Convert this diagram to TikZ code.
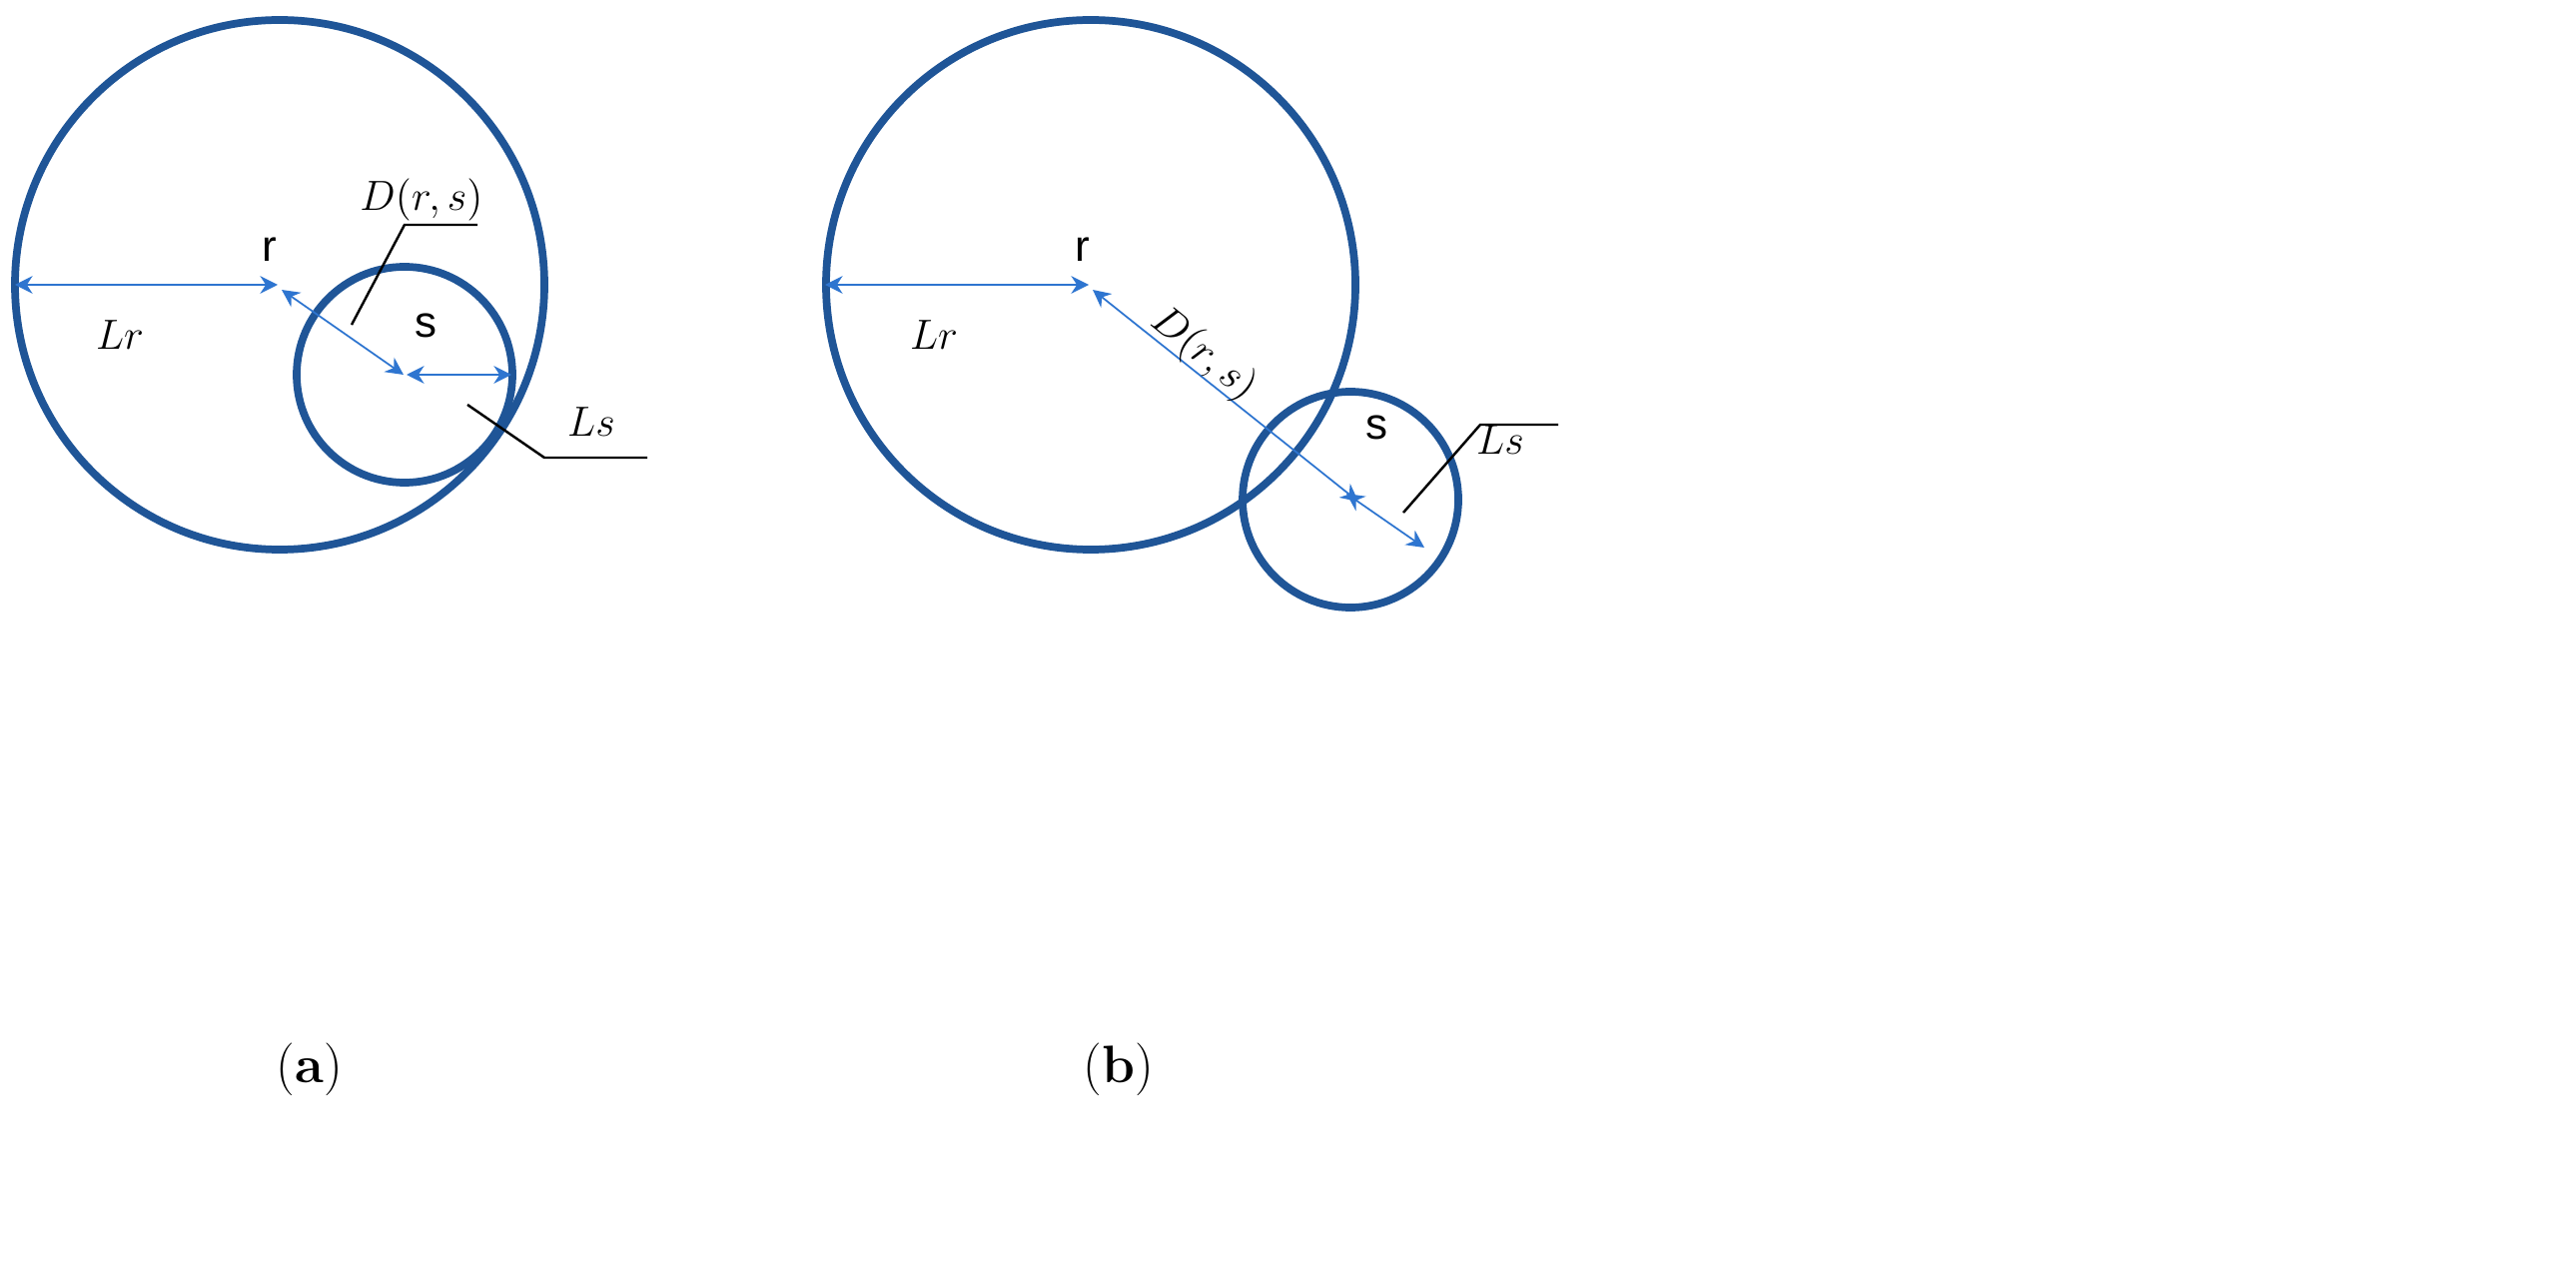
\documentclass[tikz,border=0pt]{standalone}
\usepackage{fontspec}
\newfontfamily\sansf{Liberation Sans}
\usetikzlibrary{arrows.meta}
\begin{document}
\begin{tikzpicture}[x=0.01cm,y=-0.01cm,
  circ/.style={draw={rgb,255:red,31;green,85;blue,151}, line width=2.2pt},
  dim/.style={draw={rgb,255:red,46;green,117;blue,208}, line width=0.5pt, {Stealth[length=5pt,width=5pt]}-{Stealth[length=5pt,width=5pt]}},
  lead/.style={draw=black, line width=0.7pt},
  lab/.style={font=\fontsize{12.5}{15}\selectfont},
  captxt/.style={font=\fontsize{15}{18}\selectfont}]
\useasboundingbox (0,0) rectangle (2579,1270);
% (a)
\coordinate (ra) at (280,285);
\coordinate (sa) at (405,375);
\draw[circ] (ra) circle[radius=265];
\draw[circ] (sa) circle[radius=108];
\coordinate (lra) at (15,285);
\coordinate (ra2) at (278,285);
\coordinate (ra3) at (282,290);
\coordinate (sa1) at (404,375);
\coordinate (sa2) at (407,375);
\coordinate (lsa) at (512,375);
\draw[dim] (lra) -- (ra2);
\draw[dim] (ra3) -- (sa1);
\draw[dim] (sa2) -- (lsa);
\node[lab] (rla) at (270,250) {\sansf r};
\node[lab] (sla) at (426,326) {\sansf s};
\node[lab] (lrla) at (120,335) {$Lr$};
\node[lab] (dla) at (422,200) {$D(r,s)$};
\node[lab] (lsla) at (592,422) {$Ls$};
\coordinate (d1) at (352,325); \coordinate (d2) at (405,225); \coordinate (d3) at (478,225);
\draw[lead] (d1) -- (d2) -- (d3);
\coordinate (l1) at (468,405); \coordinate (l2) at (545,458); \coordinate (l3) at (648,458);
\draw[lead] (l1) -- (l2) -- (l3);
\node[captxt] (capa) at (310,1070) {(\textbf{a})};
% (b)
\coordinate (rb) at (1092,285);
\coordinate (sb) at (1352,500);
\draw[circ] (rb) circle[radius=265];
\draw[circ] (sb) circle[radius=108];
\coordinate (lrb) at (826,285);
\coordinate (rb2) at (1090,285);
\coordinate (rb3) at (1094,290);
\coordinate (sb1) at (1360,502);
\coordinate (sb2) at (1348,494);
\coordinate (lsb) at (1426,548);
\draw[dim] (lrb) -- (rb2);
\draw[dim] (rb3) -- (sb1);
\draw[dim] (sb2) -- (lsb);
\node[lab] (rlb) at (1084,250) {\sansf r};
\node[lab] (slb) at (1378,428) {\sansf s};
\node[lab] (lrlb) at (935,335) {$Lr$};
\node[lab, rotate=-39] (dlb) at (1205,355) {$D(r,s)$};
\node[lab] (lslb) at (1502,440) {$Ls$};
\coordinate (m1) at (1405,513); \coordinate (m2) at (1482,425); \coordinate (m3) at (1560,425);
\draw[lead] (m1) -- (m2) -- (m3);
\node[captxt] (capb) at (1120,1070) {(\textbf{b})};
\end{tikzpicture}
\end{document}
